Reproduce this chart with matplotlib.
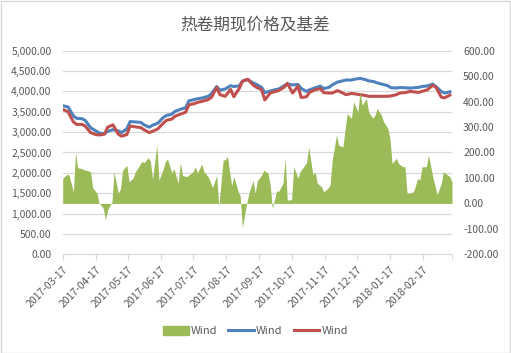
import pandas as pd
import matplotlib
matplotlib.use('Agg')
import matplotlib.pyplot as plt
import matplotlib.dates as mdates
from matplotlib.patches import Patch, Rectangle
from matplotlib.lines import Line2D
from matplotlib.ticker import FuncFormatter, MultipleLocator

plt.rcParams['font.family'] = ['Noto Sans CJK SC', 'DejaVu Sans']

title = '热卷期现价格及基差'
legend_labels = ['Wind', 'Wind', 'Wind']

# trading days, basis sampled every 2nd day, prices every 3rd day
trade_days = pd.bdate_range('2017-03-17', '2018-03-16')
basis_dates = trade_days[::2]
price_dates = trade_days[::3]

basis = [98, 115, 110, 46, 200, 140, 137, 132, 128, 124,
         62, 40, 2, -20, -65, -25, 5, 124, 40, 58,
         130, 150, 85, 100, 125, 137, 165, 160, 180, 165,
         95, 229, 92, 135, 165, 175, 120, 137, 79, 160,
         110, 105, 112, 125, 144, 120, 155, 125, 105, 85,
         62, 110, -13, 170, 172, 185, 70, 105, 48, 28,
         -95, 0, 39, 90, 40, 90, 111, 131, 118, 75,
         -20, 48, 48, 80, 177, 13, 15, 144, 98, 124,
         137, 160, 222, 111, 124, 80, 65, 46, 59, 72,
         170, 268, 229, 222, 290, 353, 334, 399, 360, 439,
         386, 412, 360, 334, 347, 373, 347, 321, 295, 255,
         157, 177, 157, 144, 144, 40, 42, 46, 98, 92,
         144, 144, 190, 105, 72, 33, 79, 124, 111, 105,
         85]

spot = [3650, 3620, 3400, 3340, 3330, 3290, 3110, 3030, 2980, 2960,
        3020, 3060, 3030, 2990, 3080, 3260, 3250, 3240, 3180, 3120,
        3170, 3220, 3360, 3410, 3440, 3510, 3560, 3600, 3770, 3800,
        3820, 3840, 3880, 3940, 4120, 4030, 4060, 4140, 4120, 4135,
        4250, 4290, 4210, 4175, 4100, 3970, 4010, 4045, 4056, 4140,
        4180, 4160, 4170, 4070, 4000, 4040, 4090, 4130, 4070, 4100,
        4160, 4230, 4260, 4280, 4280, 4300, 4320, 4290, 4260, 4240,
        4210, 4175, 4140, 4090, 4085, 4095, 4090, 4080, 4090, 4100,
        4120, 4135, 4180, 4120, 4000, 3960, 3990]

futures = [3560, 3500, 3250, 3190, 3190, 3150, 2990, 2940, 2930, 2950,
           3120, 3180, 2950, 2900, 2940, 3150, 3130, 3110, 3060, 2990,
           3020, 3080, 3220, 3290, 3320, 3390, 3440, 3490, 3670, 3700,
           3730, 3760, 3800, 3850, 4100, 3920, 3880, 4050, 3870, 4070,
           4250, 4300, 4160, 4105, 4040, 3790, 3960, 4000, 4024, 4100,
           4200, 3960, 4130, 3850, 3870, 3980, 4040, 4070, 3970, 3960,
           3960, 4020, 3960, 3920, 3950, 3940, 3920, 3900, 3880, 3880,
           3880, 3880, 3880, 3890, 3920, 3960, 3970, 4000, 3990, 3975,
           4000, 4040, 4150, 4100, 3860, 3840, 3910]

green = '#9BBB59'
blue = '#4F81BD'
red = '#C0504D'
grey_text = '#595959'
grid_col = '#D9D9D9'

fig = plt.figure(figsize=(5.11, 3.53), dpi=100)
ax1 = fig.add_axes([0.1227, 0.2796, 0.7618, 0.5768])
ax2 = ax1.twinx()

ax1.plot(price_dates, spot, color=blue, lw=2.2, zorder=3)
ax1.plot(price_dates, futures, color=red, lw=2.2, zorder=4)
ax2.fill_between(basis_dates, 0, basis, color=green, lw=0)

ax1.set_ylim(0, 5000)
ax1.yaxis.set_major_locator(MultipleLocator(500))
ax1.yaxis.set_major_formatter(FuncFormatter(lambda v, p: '{:,.2f}'.format(v)))
ax2.set_ylim(-200, 600)
ax2.yaxis.set_major_locator(MultipleLocator(100))
ax2.yaxis.set_major_formatter(FuncFormatter(lambda v, p: '{:.2f}'.format(v)))

ax1.set_xlim(pd.Timestamp('2017-03-17'), pd.Timestamp('2018-03-16'))
xt = pd.date_range('2017-03-01', '2018-02-01', freq='MS') + pd.Timedelta(days=16)
ax1.set_xticks(xt)
ax1.xaxis.set_major_formatter(mdates.DateFormatter('%Y-%m-%d'))
ax1.set_xticks([pd.Timestamp('2018-03-16')], minor=True)

ax1.grid(axis='y', color=grid_col, lw=0.9)
ax1.set_axisbelow(True)
for ax in (ax1, ax2):
    for s in ax.spines.values():
        s.set_visible(False)
ax1.spines['bottom'].set_visible(True)
ax1.spines['bottom'].set_color(grid_col)

ax1.tick_params(axis='y', length=0, labelsize=7.5, labelcolor=grey_text, pad=8)
ax2.tick_params(axis='y', length=0, labelsize=7.5, labelcolor=grey_text, pad=8)
ax1.tick_params(axis='x', which='both', length=4, color=grid_col, labelsize=7.5,
                labelcolor=grey_text)
plt.setp(ax1.get_xticklabels(), rotation=45, ha='right', rotation_mode='anchor')

fig.text(0.5, 0.928, title, ha='center', va='center', fontsize=12, color=grey_text)

handles = [Patch(color=green), Line2D([], [], color=blue, lw=2.2),
           Line2D([], [], color=red, lw=2.2)]
fig.legend(handles, legend_labels, loc='center', bbox_to_anchor=(0.5, 0.062), ncol=3,
           frameon=False, fontsize=8, labelcolor=grey_text, handlelength=2.3,
           handletextpad=0.2, columnspacing=1.0, handleheight=0.8)

fig.patches.append(Rectangle((0.001, 0.001), 0.997, 0.996, transform=fig.transFigure,
                             fill=False, edgecolor=grid_col, lw=1))

fig.savefig('out.png', dpi=100)
